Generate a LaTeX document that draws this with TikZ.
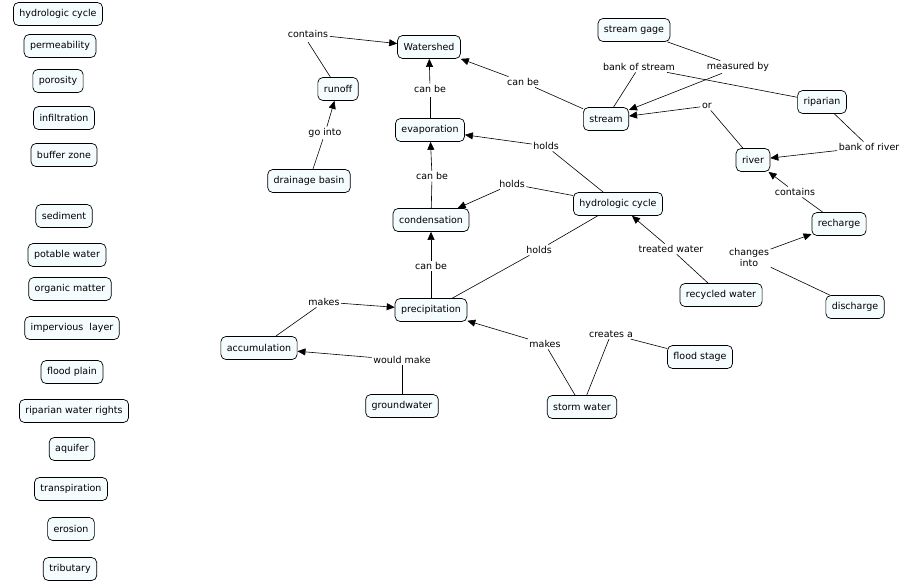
\documentclass[tikz,border=0pt]{standalone}
\usepackage{fontspec}
\setmainfont{DejaVu Sans}
\usetikzlibrary{arrows.meta}
\begin{document}
\begin{tikzpicture}[x=1pt,y=-1pt,
  c/.style={draw=black,rounded corners=5pt,fill=gray!6!cyan!4,font=\fontsize{9.5}{11}\selectfont,minimum height=23pt,inner xsep=6pt,line width=0.7pt},
  l/.style={fill=white,inner sep=1.5pt,font=\fontsize{9.5}{11}\selectfont,align=center},
  ln/.style={line width=0.6pt},
  ar/.style={line width=0.6pt,-{Triangle[length=8pt,width=7pt]}}]
\useasboundingbox[fill=white] (0,0) rectangle (912,587);
% left column
\node[c] (a1) at (58,14) {hydrologic cycle};
\node[c] (a2) at (60,46) {permeability};
\node[c] (a3) at (58,81) {porosity};
\node[c] (a4) at (64,118) {infiltration};
\node[c] (a5) at (64,155) {buffer zone};
\node[c] (a6) at (64,216) {sediment};
\node[c] (a7) at (67,255) {potable water};
\node[c] (a8) at (70,289) {organic matter};
\node[c] (a9) at (72,328) {impervious\ \ layer};
\node[c] (a10) at (72,372) {flood plain};
\node[c] (a11) at (74,411) {riparian water rights};
\node[c] (a12) at (72,449) {aquifer};
\node[c] (a13) at (71,489) {transpiration};
\node[c] (a14) at (71,529) {erosion};
\node[c] (a15) at (70,569) {tributary};
% main concepts
\node[c] (ws) at (429,47) {Watershed};
\node[c] (ro) at (338,89) {runoff};
\node[c] (ev) at (430,130) {evaporation};
\node[c] (db) at (309,181) {drainage basin};
\node[c] (co) at (431,220) {condensation};
\node[c] (pr) at (431,310) {precipitation};
\node[c] (ac) at (259,348) {accumulation};
\node[c] (gw) at (402,406) {groundwater};
\node[c] (sw) at (582,407) {storm water};
\node[c] (fs) at (700,357) {flood stage};
\node[c] (hc) at (618,204) {hydrologic cycle};
\node[c] (rw) at (721,295) {recycled water};
\node[c] (di) at (855,307) {discharge};
\node[c] (re) at (839,224) {recharge};
\node[c] (ri) at (753,160) {river};
\node[c] (rp) at (822,102) {riparian};
\node[c] (st) at (606,119) {stream};
\node[c] (sg) at (634,30) {stream gage};
% links
\draw[ln] (ro) -- (308,42); \node[l] (l1) at (308,34) {contains}; \draw[ar] (l1) -- (ws);
\draw[ln] (ev) -- (430,97); \node[l] (l2) at (430,89) {can be}; \draw[ar] (l2) -- (ws);
\node[l] (l3) at (523,82) {can be}; \draw[ln] (st) -- (l3); \draw[ar] (l3) -- (ws);
\node[l] (l4) at (325,133) {go into}; \draw[ln] (db) -- (l4); \draw[ar] (l4) -- (ro);
\node[l] (l5) at (432,176) {can be}; \draw[ln] (co) -- (l5); \draw[ar] (l5) -- (ev);
\node[l] (l6) at (546,146) {holds}; \draw[ln] (hc) -- (l6); \draw[ar] (l6) -- (ev);
\node[l] (l7) at (512,184) {holds}; \draw[ln] (hc) -- (l7); \draw[ar] (l7) -- (co);
\node[l] (l8) at (539,250) {holds}; \draw[ln] (hc) -- (l8); \draw[ln] (l8) -- (pr);
\node[l] (l9) at (431,266) {can be}; \draw[ln] (pr) -- (l9); \draw[ar] (l9) -- (co);
\node[l] (l10) at (324,302) {makes}; \draw[ln] (ac) -- (l10); \draw[ar] (l10) -- (pr);
\node[l] (l11) at (402,360) {would make}; \draw[ln] (gw) -- (l11); \draw[ar] (l11) -- (ac);
\node[l] (l12) at (545,344) {makes}; \draw[ln] (sw) -- (l12); \draw[ar] (l12) -- (pr);
\node[l] (l13) at (611,334) {creates a}; \draw[ln] (sw) -- (l13); \draw[ln] (l13) -- (fs);
\node[l] (l14) at (671,249) {treated water}; \draw[ln] (rw) -- (l14); \draw[ar] (l14) -- (hc);
\node[l] (l15) at (749,257) {changes\\into}; \draw[ln] (di) -- (l15); \draw[ar] (l15) -- (re);
\node[l] (l16) at (795,192) {contains}; \draw[ln] (re) -- (l16); \draw[ar] (l16) -- (ri);
\node[l] (l17) at (869,147) {bank of river}; \draw[ln] (rp) -- (l17); \draw[ar] (l17) -- (ri);
\node[l] (l18) at (707,106) {or}; \draw[ln] (ri) -- (l18); \draw[ar] (l18) -- (st);
\node[l] (l19) at (639,67) {bank of stream}; \draw[ln] (rp) -- (l19); \draw[ln] (l19) -- (st);
\node[l] (l20) at (738,67) {measured by}; \draw[ln] (sg) -- (l20); \draw[ar] (l20) -- (st);
\node[l] at (639,67) {bank of stream};
\node[l] at (738,67) {measured by};
\end{tikzpicture}
\end{document}
